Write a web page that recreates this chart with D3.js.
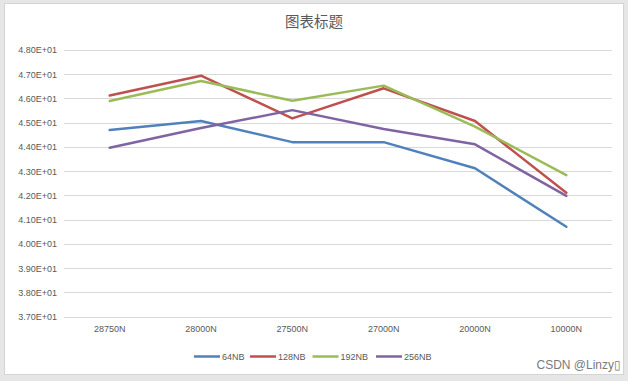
<!DOCTYPE html>
<html>
<head>
<meta charset="utf-8">
<script src="https://cdn.jsdelivr.net/npm/d3@7/dist/d3.min.js"></script>
<style>
html,body{margin:0;padding:0;background:#e6e6e6;}
svg{display:block;}
</style>
</head>
<body>
<svg id="chart" width="628" height="381"></svg>
<script>
const categories = ["28750N","28000N","27500N","27000N","20000N","10000N"];
const seriesNames = ["64NB","128NB","192NB","256NB"];
const s64  = [44.70, 45.07, 44.20, 44.20, 43.12, 40.71];
const s128 = [46.12, 46.94, 45.18, 46.42, 45.07, 42.11];
const s192 = [45.90, 46.72, 45.91, 46.53, 44.84, 42.84];
const s256 = [43.97, 44.78, 45.52, 44.74, 44.11, 41.98];
const yTicks = [37,38,39,40,41,42,43,44,45,46,47,48];
const colors = ["#4f81bd","#c0504d","#9bbb59","#8064a2"];
const seriesValues = [s64, s128, s192, s256];

const svg = d3.select("#chart");
svg.append("rect").attr("x",0).attr("y",0).attr("width",628).attr("height",381).attr("fill","#e6e6e6");
svg.append("rect").attr("x",4.5).attr("y",3.5).attr("width",619).attr("height",371)
  .attr("fill","#ffffff").attr("stroke","#d4d4d4").attr("stroke-width",1);

const x = d3.scaleBand().domain(categories).range([64,612]);
const y = d3.scaleLinear().domain([37,48]).range([316.7,50]);

svg.append("text").attr("x",314).attr("y",27).attr("text-anchor","middle")
  .attr("font-family","'Noto Sans CJK SC', sans-serif").attr("font-size",14.5)
  .attr("fill","#595959").text("图表标题");

// gridlines
svg.append("g").selectAll("line").data(yTicks).join("line")
  .attr("x1",64).attr("x2",612)
  .attr("y1",d=>Math.round(y(d))+0.5).attr("y2",d=>Math.round(y(d))+0.5)
  .attr("stroke","#d9d9d9").attr("stroke-width",1);

// y axis labels
const yAxis = d3.axisLeft(y).tickValues(yTicks).tickSize(0).tickPadding(0)
  .tickFormat(d => d3.format(".2f")(d/10) + "E+01");
const gy = svg.append("g").attr("transform","translate(57,0)").call(yAxis);
gy.select(".domain").remove();
gy.selectAll("text").attr("font-family","'Liberation Sans', Arial, sans-serif")
  .attr("font-size",9).attr("fill","#595959");

// x axis labels
const xAxis = d3.axisBottom(x).tickSize(0).tickPadding(0);
const gx = svg.append("g").attr("transform","translate(0,326)").call(xAxis);
gx.select(".domain").remove();
gx.selectAll("text").attr("font-family","'Liberation Sans', Arial, sans-serif")
  .attr("font-size",9).attr("fill","#595959");

// lines
const line = d3.line().x((d,i)=>x(categories[i])+x.bandwidth()/2).y(d=>y(d));
svg.append("g").selectAll("path").data(seriesValues).join("path")
  .attr("d",d=>line(d)).attr("fill","none")
  .attr("stroke",(d,i)=>colors[i]).attr("stroke-width",2.5)
  .attr("stroke-linejoin","round").attr("stroke-linecap","round");

// legend
const legendX = [194, 250, 312.5, 376];
const lg = svg.append("g");
seriesNames.forEach((n,i)=>{
  lg.append("line").attr("x1",legendX[i]).attr("x2",legendX[i]+26)
    .attr("y1",356.5).attr("y2",356.5).attr("stroke",colors[i]).attr("stroke-width",2.5);
  lg.append("text").attr("x",legendX[i]+28).attr("y",359.5)
    .attr("font-family","'Liberation Sans', Arial, sans-serif").attr("font-size",9)
    .attr("fill","#595959").text(n);
});

svg.append("text").attr("x",621).attr("y",369).attr("text-anchor","end")
  .attr("font-family","'Liberation Sans', Arial, sans-serif").attr("font-size",12)
  .attr("fill","#7a7a7a").text("CSDN @Linzy\u25AF");
</script>
</body>
</html>
